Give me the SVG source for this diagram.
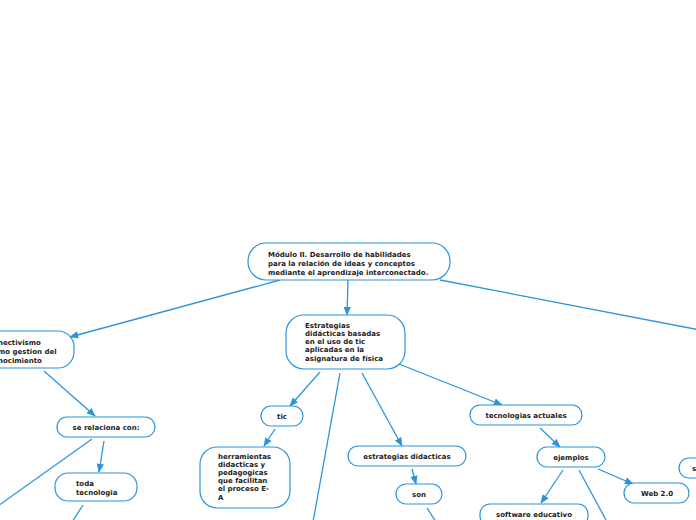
<svg xmlns="http://www.w3.org/2000/svg" width="696" height="520" viewBox="0 0 696 520">
<style>
.n{fill:#fff;stroke:#2b95dc;stroke-width:1.2}
.t{font-family:"DejaVu Sans",sans-serif;font-weight:bold;font-size:7px;fill:#222}
.c{text-anchor:middle}
.e{stroke:#2b95dc;stroke-width:1.3;fill:none}
</style>
<defs><marker id="a" viewBox="0 0 10 10" refX="9" refY="5" markerWidth="7" markerHeight="7" orient="auto"><path d="M0,1L10,5L0,9z" fill="#2b95dc"/></marker></defs>
<rect width="696" height="520" fill="#fff"/>
<g id="connectors">
<line class="e" x1="280" y1="280" x2="70" y2="337" marker-end="url(#a)"/>
<line class="e" x1="348" y1="280" x2="347" y2="315" marker-end="url(#a)"/>
<line class="e" x1="440" y1="280" x2="700" y2="330"/>
<line class="e" x1="44" y1="371" x2="95" y2="416" marker-end="url(#a)"/>
<line class="e" x1="92" y1="439" x2="-2" y2="506"/>
<line class="e" x1="104" y1="441" x2="99" y2="472" marker-end="url(#a)"/>
<line class="e" x1="83" y1="505" x2="72" y2="522"/>
<line class="e" x1="320" y1="372" x2="290" y2="406" marker-end="url(#a)"/>
<line class="e" x1="340" y1="373" x2="313" y2="522"/>
<line class="e" x1="362" y1="373" x2="402" y2="446" marker-end="url(#a)"/>
<line class="e" x1="399" y1="364" x2="502" y2="405" marker-end="url(#a)"/>
<line class="e" x1="275" y1="429" x2="264" y2="446" marker-end="url(#a)"/>
<line class="e" x1="412" y1="469" x2="416" y2="484" marker-end="url(#a)"/>
<line class="e" x1="427" y1="508" x2="436" y2="522"/>
<line class="e" x1="540" y1="428" x2="560" y2="447" marker-end="url(#a)"/>
<line class="e" x1="563" y1="470" x2="541" y2="503" marker-end="url(#a)"/>
<line class="e" x1="579" y1="470" x2="607" y2="522"/>
<line class="e" x1="598" y1="469" x2="633" y2="484" marker-end="url(#a)"/>
</g>
<g id="main"><rect class="n" x="248" y="243" width="202" height="37" rx="18"/>
<text class="t" x="268" y="257">Módulo II. Desarrollo de habilidades</text><text class="t" x="268" y="266">para la relación de ideas y conceptos</text><text class="t" x="268" y="275">mediante el aprendizaje interconectado.</text></g>
<g id="conectivismo"><rect class="n" x="-25" y="331" width="99" height="37" rx="16"/>
<text class="t" x="-11" y="345">conectivismo</text><text class="t" x="-11" y="354">como gestion del</text><text class="t" x="-11" y="363">conocimiento</text></g>
<g id="estrategias"><rect class="n" x="286" y="315" width="119" height="54" rx="18"/>
<text class="t" x="305" y="328">Estrategias</text><text class="t" x="305" y="336">didácticas basadas</text><text class="t" x="305" y="344">en el uso de tic</text><text class="t" x="305" y="352">aplicadas en la</text><text class="t" x="305" y="361">asignatura de física</text></g>
<g id="tic"><rect class="n" x="261" y="406" width="42" height="20" rx="10"/><text class="t c" x="282" y="419">tic</text></g>
<g id="herramientas"><rect class="n" x="200" y="447" width="90" height="61" rx="17"/>
<text class="t" x="218" y="459">herramientas</text><text class="t" x="218" y="467">didacticas y</text><text class="t" x="218" y="475">pedagogicas</text><text class="t" x="218" y="483">que facilitan</text><text class="t" x="218" y="491">el proceso E-</text><text class="t" x="218" y="500">A</text></g>
<g id="serelaciona"><rect class="n" x="57" y="417" width="98" height="20" rx="10"/><text class="t c" x="106" y="430">se relaciona con:</text></g>
<g id="toda"><rect class="n" x="55" y="473" width="82" height="28" rx="13"/><text class="t" x="76" y="486">toda</text><text class="t" x="76" y="495">tecnologia</text></g>
<g id="estdid"><rect class="n" x="348" y="446" width="118" height="20" rx="10"/><text class="t c" x="407" y="459">estrategias didacticas</text></g>
<g id="son"><rect class="n" x="396" y="484" width="46" height="20" rx="10"/><text class="t c" x="419" y="497">son</text></g>
<g id="tecact"><rect class="n" x="470" y="405" width="112" height="20" rx="10"/><text class="t c" x="526" y="418">tecnologias actuales</text></g>
<g id="ejemplos"><rect class="n" x="537" y="447" width="68" height="20" rx="10"/><text class="t c" x="571" y="460">ejemplos</text></g>
<g id="web"><rect class="n" x="624" y="483" width="65" height="20" rx="10"/><text class="t c" x="657" y="496">Web 2.0</text></g>
<g id="software"><rect class="n" x="480" y="504" width="108" height="22" rx="10"/><text class="t c" x="534" y="517">software educativo</text></g>
<g id="right"><rect class="n" x="679" y="458" width="40" height="20" rx="10"/><text class="t" x="692" y="471">s</text></g>
</svg>
